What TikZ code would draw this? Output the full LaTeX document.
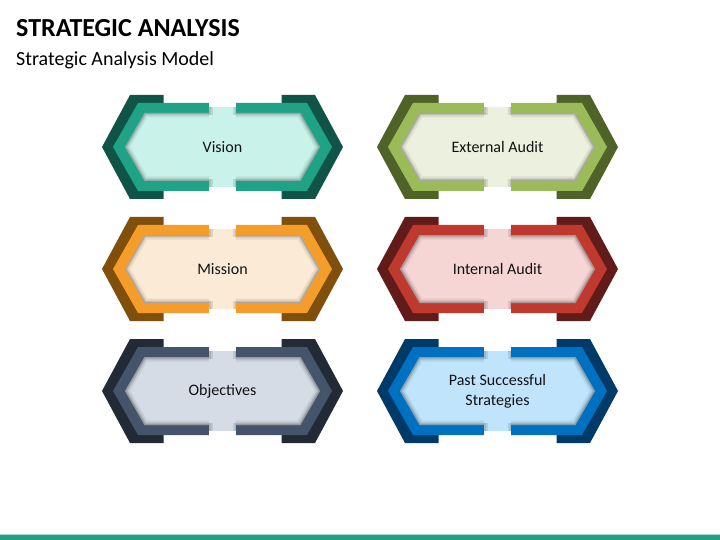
\documentclass[tikz,border=0pt]{standalone}
\usepackage{fontspec}
\setmainfont{Carlito}
\definecolor{visD}{HTML}{0F5446}
\definecolor{visM}{HTML}{20A286}
\definecolor{visL}{HTML}{C9F3EA}
\definecolor{extD}{HTML}{4F6228}
\definecolor{extM}{HTML}{9BBB59}
\definecolor{extL}{HTML}{EBF1DE}
\definecolor{misD}{HTML}{7F4F0B}
\definecolor{misM}{HTML}{F49D2A}
\definecolor{misL}{HTML}{FAEAD6}
\definecolor{intD}{HTML}{611B18}
\definecolor{intM}{HTML}{C0392F}
\definecolor{intL}{HTML}{F5D6D4}
\definecolor{objD}{HTML}{222A35}
\definecolor{objM}{HTML}{44546A}
\definecolor{objL}{HTML}{D6DCE5}
\definecolor{pasD}{HTML}{003A68}
\definecolor{pasM}{HTML}{0070C0}
\definecolor{pasL}{HTML}{BFE4FB}
\definecolor{barT}{HTML}{22A085}
\definecolor{barL}{HTML}{A6DBCE}
\definecolor{txt}{HTML}{111111}
\newcommand\hexp[3]{(-#1,0) -- (-#2,-#3) -- (#2,-#3) -- (#1,0) -- (#2,#3) -- (-#2,#3) -- cycle}
\newcommand\card[7]{%
\begin{scope}[shift={(#1,#2)}]
  \begin{scope}
    \clip (-125,-56) rectangle (-59,56) (59,-56) rectangle (125,56);
    \fill[#3] \hexp{120.5}{92.5}{52};
  \end{scope}
  \fill[#4] \hexp{109.5}{84.5}{44};
  \fill[white] (-13.5,-45) rectangle (13.5,45);
  \fill[#5] \hexp{97.5}{78}{34};
  \begin{scope}
    \clip \hexp{97.5}{78}{34};
    \draw[black, opacity=.07, line width=9] \hexp{97.5}{78}{34};
    \draw[black, opacity=.11, line width=5] \hexp{97.5}{78}{34};
    \draw[black, opacity=.15, line width=2.5] \hexp{97.5}{78}{34};
  \end{scope}
  \fill[#5] (-13.5,-40) rectangle (13.5,40);
  \foreach \s in {-1,1}{
    \fill[black, opacity=.10] (-13.5*\s,-40) rectangle (-10*\s,-32);
    \fill[black, opacity=.10] (-13.5*\s,-40) rectangle (-12*\s,-32);
    \fill[black, opacity=.10] (-13.5*\s,40) rectangle (-10*\s,32);
    \fill[black, opacity=.10] (-13.5*\s,40) rectangle (-12*\s,32);
  }
  \fill[#5] (-10,-40) rectangle (10,40);
  \node[lbl] (#6) at (0,0.5) {#7};
\end{scope}}
\tikzset{lbl/.style={align=center, text=txt, font=\fontsize{16}{19.5}\selectfont, inner sep=0}}
\begin{document}
\begin{tikzpicture}[x=1pt,y=-1pt]
\useasboundingbox (0,0) rectangle (720,540);
\fill[white] (0,0) rectangle (720,540);
\node[anchor=base west, text=black, font=\bfseries\fontsize{26}{30}\selectfont, inner sep=0] (title) at (16,37) {STRATEGIC ANALYSIS};
\node[anchor=base west, text=black, font=\fontsize{20}{24}\selectfont, inner sep=0] (subtitle) at (16,66) {Strategic Analysis Model};
\card{222.5}{147}{visD}{visM}{visL}{vision}{Vision}
\card{497.5}{147}{extD}{extM}{extL}{external}{External Audit}
\card{222.5}{269}{misD}{misM}{misL}{mission}{Mission}
\card{497.5}{269}{intD}{intM}{intL}{internal}{Internal Audit}
\card{222.5}{391}{objD}{objM}{objL}{objectives}{Objectives}
\card{497.5}{391}{pasD}{pasM}{pasL}{past}{Past Successful\\Strategies}
\fill[barL] (0,533.5) rectangle (720,535);
\fill[barT] (0,535) rectangle (720,540);
\end{tikzpicture}
\end{document}
